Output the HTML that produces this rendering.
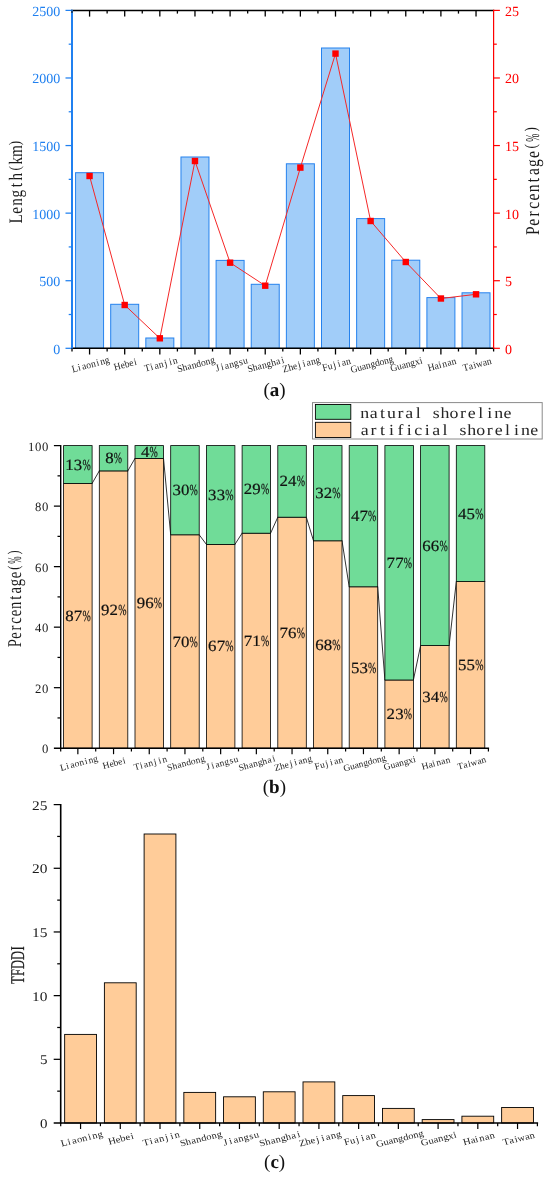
<!DOCTYPE html>
<html lang="en"><head><meta charset="utf-8"><title>Shoreline statistics</title>
<style>
html,body{margin:0;padding:0;background:#fff}
body{width:550px;height:1179px;overflow:hidden}
svg{display:block;font-family:'Liberation Serif','Noto Serif CJK SC',serif}
svg text{text-rendering:geometricPrecision}
</style></head><body>
<svg width="550" height="1179" viewBox="0 0 550 1179">
<rect width="550" height="1179" fill="#fff"/>
<g id="panel-a">
<rect x="75.57" y="172.70" width="28.00" height="175.60" fill="#a1cdf9" stroke="#2582ee" stroke-width="1"/>
<rect x="110.70" y="304.30" width="28.00" height="44.00" fill="#a1cdf9" stroke="#2582ee" stroke-width="1"/>
<rect x="145.83" y="338.00" width="28.00" height="10.30" fill="#a1cdf9" stroke="#2582ee" stroke-width="1"/>
<rect x="180.97" y="157.00" width="28.00" height="191.30" fill="#a1cdf9" stroke="#2582ee" stroke-width="1"/>
<rect x="216.10" y="260.40" width="28.00" height="87.90" fill="#a1cdf9" stroke="#2582ee" stroke-width="1"/>
<rect x="251.23" y="284.30" width="28.00" height="64.00" fill="#a1cdf9" stroke="#2582ee" stroke-width="1"/>
<rect x="286.37" y="163.80" width="28.00" height="184.50" fill="#a1cdf9" stroke="#2582ee" stroke-width="1"/>
<rect x="321.50" y="48.00" width="28.00" height="300.30" fill="#a1cdf9" stroke="#2582ee" stroke-width="1"/>
<rect x="356.63" y="218.60" width="28.00" height="129.70" fill="#a1cdf9" stroke="#2582ee" stroke-width="1"/>
<rect x="391.77" y="260.20" width="28.00" height="88.10" fill="#a1cdf9" stroke="#2582ee" stroke-width="1"/>
<rect x="426.90" y="297.60" width="28.00" height="50.70" fill="#a1cdf9" stroke="#2582ee" stroke-width="1"/>
<rect x="462.03" y="292.80" width="28.00" height="55.50" fill="#a1cdf9" stroke="#2582ee" stroke-width="1"/>
<line x1="71.0" y1="10.4" x2="494.20000000000005" y2="10.4" stroke="#000" stroke-width="1.5"/>
<line x1="65.5" y1="10.4" x2="72.0" y2="10.4" stroke="#2080f0" stroke-width="1.25"/>
<line x1="71.0" y1="348.3" x2="494.20000000000005" y2="348.3" stroke="#000" stroke-width="1.5"/>
<line x1="65.5" y1="348.3" x2="72.0" y2="348.3" stroke="#2080f0" stroke-width="1.25"/>
<line x1="72.0" y1="9.700000000000001" x2="72.0" y2="349.0" stroke="#2080f0" stroke-width="2"/>
<line x1="493.6" y1="9.700000000000001" x2="493.6" y2="349.0" stroke="#ff0000" stroke-width="1.2"/>
<line x1="89.57" y1="10.4" x2="89.57" y2="16.6" stroke="#000" stroke-width="1.3"/>
<line x1="89.57" y1="348.3" x2="89.57" y2="354.5" stroke="#000" stroke-width="1.3"/>
<line x1="124.70" y1="10.4" x2="124.70" y2="16.6" stroke="#000" stroke-width="1.3"/>
<line x1="124.70" y1="348.3" x2="124.70" y2="354.5" stroke="#000" stroke-width="1.3"/>
<line x1="159.83" y1="10.4" x2="159.83" y2="16.6" stroke="#000" stroke-width="1.3"/>
<line x1="159.83" y1="348.3" x2="159.83" y2="354.5" stroke="#000" stroke-width="1.3"/>
<line x1="194.97" y1="10.4" x2="194.97" y2="16.6" stroke="#000" stroke-width="1.3"/>
<line x1="194.97" y1="348.3" x2="194.97" y2="354.5" stroke="#000" stroke-width="1.3"/>
<line x1="230.10" y1="10.4" x2="230.10" y2="16.6" stroke="#000" stroke-width="1.3"/>
<line x1="230.10" y1="348.3" x2="230.10" y2="354.5" stroke="#000" stroke-width="1.3"/>
<line x1="265.23" y1="10.4" x2="265.23" y2="16.6" stroke="#000" stroke-width="1.3"/>
<line x1="265.23" y1="348.3" x2="265.23" y2="354.5" stroke="#000" stroke-width="1.3"/>
<line x1="300.37" y1="10.4" x2="300.37" y2="16.6" stroke="#000" stroke-width="1.3"/>
<line x1="300.37" y1="348.3" x2="300.37" y2="354.5" stroke="#000" stroke-width="1.3"/>
<line x1="335.50" y1="10.4" x2="335.50" y2="16.6" stroke="#000" stroke-width="1.3"/>
<line x1="335.50" y1="348.3" x2="335.50" y2="354.5" stroke="#000" stroke-width="1.3"/>
<line x1="370.63" y1="10.4" x2="370.63" y2="16.6" stroke="#000" stroke-width="1.3"/>
<line x1="370.63" y1="348.3" x2="370.63" y2="354.5" stroke="#000" stroke-width="1.3"/>
<line x1="405.77" y1="10.4" x2="405.77" y2="16.6" stroke="#000" stroke-width="1.3"/>
<line x1="405.77" y1="348.3" x2="405.77" y2="354.5" stroke="#000" stroke-width="1.3"/>
<line x1="440.90" y1="10.4" x2="440.90" y2="16.6" stroke="#000" stroke-width="1.3"/>
<line x1="440.90" y1="348.3" x2="440.90" y2="354.5" stroke="#000" stroke-width="1.3"/>
<line x1="476.03" y1="10.4" x2="476.03" y2="16.6" stroke="#000" stroke-width="1.3"/>
<line x1="476.03" y1="348.3" x2="476.03" y2="354.5" stroke="#000" stroke-width="1.3"/>
<line x1="72.00" y1="348.3" x2="72.00" y2="351.5" stroke="#000" stroke-width="1.3"/>
<line x1="72.00" y1="10.4" x2="72.00" y2="13.0" stroke="#123" stroke-width="1.2"/>
<line x1="107.13" y1="10.4" x2="107.13" y2="13.600000000000001" stroke="#000" stroke-width="1.3"/>
<line x1="107.13" y1="348.3" x2="107.13" y2="351.5" stroke="#000" stroke-width="1.3"/>
<line x1="142.27" y1="10.4" x2="142.27" y2="13.600000000000001" stroke="#000" stroke-width="1.3"/>
<line x1="142.27" y1="348.3" x2="142.27" y2="351.5" stroke="#000" stroke-width="1.3"/>
<line x1="177.40" y1="10.4" x2="177.40" y2="13.600000000000001" stroke="#000" stroke-width="1.3"/>
<line x1="177.40" y1="348.3" x2="177.40" y2="351.5" stroke="#000" stroke-width="1.3"/>
<line x1="212.53" y1="10.4" x2="212.53" y2="13.600000000000001" stroke="#000" stroke-width="1.3"/>
<line x1="212.53" y1="348.3" x2="212.53" y2="351.5" stroke="#000" stroke-width="1.3"/>
<line x1="247.67" y1="10.4" x2="247.67" y2="13.600000000000001" stroke="#000" stroke-width="1.3"/>
<line x1="247.67" y1="348.3" x2="247.67" y2="351.5" stroke="#000" stroke-width="1.3"/>
<line x1="282.80" y1="10.4" x2="282.80" y2="13.600000000000001" stroke="#000" stroke-width="1.3"/>
<line x1="282.80" y1="348.3" x2="282.80" y2="351.5" stroke="#000" stroke-width="1.3"/>
<line x1="317.93" y1="10.4" x2="317.93" y2="13.600000000000001" stroke="#000" stroke-width="1.3"/>
<line x1="317.93" y1="348.3" x2="317.93" y2="351.5" stroke="#000" stroke-width="1.3"/>
<line x1="353.07" y1="10.4" x2="353.07" y2="13.600000000000001" stroke="#000" stroke-width="1.3"/>
<line x1="353.07" y1="348.3" x2="353.07" y2="351.5" stroke="#000" stroke-width="1.3"/>
<line x1="388.20" y1="10.4" x2="388.20" y2="13.600000000000001" stroke="#000" stroke-width="1.3"/>
<line x1="388.20" y1="348.3" x2="388.20" y2="351.5" stroke="#000" stroke-width="1.3"/>
<line x1="423.33" y1="10.4" x2="423.33" y2="13.600000000000001" stroke="#000" stroke-width="1.3"/>
<line x1="423.33" y1="348.3" x2="423.33" y2="351.5" stroke="#000" stroke-width="1.3"/>
<line x1="458.47" y1="10.4" x2="458.47" y2="13.600000000000001" stroke="#000" stroke-width="1.3"/>
<line x1="458.47" y1="348.3" x2="458.47" y2="351.5" stroke="#000" stroke-width="1.3"/>
<line x1="493.60" y1="348.3" x2="493.60" y2="351.5" stroke="#000" stroke-width="1.3"/>
<line x1="493.6" y1="348.30" x2="499.90000000000003" y2="348.30" stroke="#ff0000" stroke-width="1.2"/>
<text x="60.3" y="353.70" font-size="14" text-anchor="end" fill="#2080f0">0</text>
<text x="505" y="353.75" font-size="14" text-anchor="start" fill="#ff0000">0</text>
<line x1="68.7" y1="314.51" x2="72.0" y2="314.51" stroke="#2080f0" stroke-width="1.25"/>
<line x1="493.6" y1="314.51" x2="496.8" y2="314.51" stroke="#ff0000" stroke-width="1.2"/>
<line x1="65.5" y1="280.72" x2="72.0" y2="280.72" stroke="#2080f0" stroke-width="1.25"/>
<line x1="493.6" y1="280.72" x2="499.90000000000003" y2="280.72" stroke="#ff0000" stroke-width="1.2"/>
<text x="60.3" y="286.12" font-size="14" text-anchor="end" fill="#2080f0">500</text>
<text x="505" y="286.17" font-size="14" text-anchor="start" fill="#ff0000">5</text>
<line x1="68.7" y1="246.93" x2="72.0" y2="246.93" stroke="#2080f0" stroke-width="1.25"/>
<line x1="493.6" y1="246.93" x2="496.8" y2="246.93" stroke="#ff0000" stroke-width="1.2"/>
<line x1="65.5" y1="213.14" x2="72.0" y2="213.14" stroke="#2080f0" stroke-width="1.25"/>
<line x1="493.6" y1="213.14" x2="499.90000000000003" y2="213.14" stroke="#ff0000" stroke-width="1.2"/>
<text x="60.3" y="218.54" font-size="14" text-anchor="end" fill="#2080f0">1000</text>
<text x="505" y="218.59" font-size="14" text-anchor="start" fill="#ff0000">10</text>
<line x1="68.7" y1="179.35" x2="72.0" y2="179.35" stroke="#2080f0" stroke-width="1.25"/>
<line x1="493.6" y1="179.35" x2="496.8" y2="179.35" stroke="#ff0000" stroke-width="1.2"/>
<line x1="65.5" y1="145.56" x2="72.0" y2="145.56" stroke="#2080f0" stroke-width="1.25"/>
<line x1="493.6" y1="145.56" x2="499.90000000000003" y2="145.56" stroke="#ff0000" stroke-width="1.2"/>
<text x="60.3" y="150.96" font-size="14" text-anchor="end" fill="#2080f0">1500</text>
<text x="505" y="151.01" font-size="14" text-anchor="start" fill="#ff0000">15</text>
<line x1="68.7" y1="111.77" x2="72.0" y2="111.77" stroke="#2080f0" stroke-width="1.25"/>
<line x1="493.6" y1="111.77" x2="496.8" y2="111.77" stroke="#ff0000" stroke-width="1.2"/>
<line x1="65.5" y1="77.98" x2="72.0" y2="77.98" stroke="#2080f0" stroke-width="1.25"/>
<line x1="493.6" y1="77.98" x2="499.90000000000003" y2="77.98" stroke="#ff0000" stroke-width="1.2"/>
<text x="60.3" y="83.38" font-size="14" text-anchor="end" fill="#2080f0">2000</text>
<text x="505" y="83.43" font-size="14" text-anchor="start" fill="#ff0000">20</text>
<line x1="68.7" y1="44.19" x2="72.0" y2="44.19" stroke="#2080f0" stroke-width="1.25"/>
<line x1="493.6" y1="44.19" x2="496.8" y2="44.19" stroke="#ff0000" stroke-width="1.2"/>
<line x1="493.6" y1="10.40" x2="499.90000000000003" y2="10.40" stroke="#ff0000" stroke-width="1.2"/>
<text x="60.3" y="15.80" font-size="14" text-anchor="end" fill="#2080f0">2500</text>
<text x="505" y="15.85" font-size="14" text-anchor="start" fill="#ff0000">25</text>
<polyline points="89.57,176.00 124.70,305.00 159.83,338.30 194.97,161.00 230.10,262.70 265.23,285.70 300.37,167.60 335.50,53.60 370.63,221.00 405.77,262.00 440.90,298.50 476.03,294.30" fill="none" stroke="#f52828" stroke-width="1"/>
<rect x="86.37" y="172.80" width="6.4" height="6.4" fill="#ff0000"/>
<rect x="121.50" y="301.80" width="6.4" height="6.4" fill="#ff0000"/>
<rect x="156.63" y="335.10" width="6.4" height="6.4" fill="#ff0000"/>
<rect x="191.77" y="157.80" width="6.4" height="6.4" fill="#ff0000"/>
<rect x="226.90" y="259.50" width="6.4" height="6.4" fill="#ff0000"/>
<rect x="262.03" y="282.50" width="6.4" height="6.4" fill="#ff0000"/>
<rect x="297.17" y="164.40" width="6.4" height="6.4" fill="#ff0000"/>
<rect x="332.30" y="50.40" width="6.4" height="6.4" fill="#ff0000"/>
<rect x="367.43" y="217.80" width="6.4" height="6.4" fill="#ff0000"/>
<rect x="402.57" y="258.80" width="6.4" height="6.4" fill="#ff0000"/>
<rect x="437.70" y="295.30" width="6.4" height="6.4" fill="#ff0000"/>
<rect x="472.83" y="291.10" width="6.4" height="6.4" fill="#ff0000"/>
<text x="-20.61 -14.02 -9.80 -5.03 0.03 6.19 10.13 15.18" y="3.00" transform="translate(90.87,364.50) rotate(-15) scale(0.95,1)" font-size="10" fill="#262626">Liaoning</text>
<text x="-13.04 -5.82 -1.39 3.60 8.72" y="3.00" transform="translate(126.00,364.50) rotate(-15) scale(0.95,1)" font-size="10" fill="#262626">Hebei</text>
<text x="-18.09 -11.49 -7.27 -2.50 3.66 8.72 12.66" y="3.00" transform="translate(161.13,364.50) rotate(-15) scale(0.95,1)" font-size="10" fill="#262626">Tianjin</text>
<text x="-20.58 -15.02 -9.80 -5.03 0.03 5.08 10.13 15.18" y="3.00" transform="translate(196.27,364.50) rotate(-15) scale(0.95,1)" font-size="10" fill="#262626">Shandong</text>
<text x="-17.10 -11.49 -7.27 -2.50 2.55 8.16 12.66" y="3.00" transform="translate(231.40,364.50) rotate(-15) scale(0.95,1)" font-size="10" fill="#262626">Jiangsu</text>
<text x="-20.58 -15.02 -9.80 -5.03 0.03 5.08 10.41 16.30" y="3.00" transform="translate(266.53,364.50) rotate(-15) scale(0.95,1)" font-size="10" fill="#262626">Shanghai</text>
<text x="-20.61 -14.52 -9.52 -3.92 1.14 5.36 10.13 15.18" y="3.00" transform="translate(301.67,364.50) rotate(-15) scale(0.95,1)" font-size="10" fill="#262626">Zhejiang</text>
<text x="-15.53 -9.96 -3.92 1.14 5.36 10.13" y="3.00" transform="translate(336.80,364.50) rotate(-15) scale(0.95,1)" font-size="10" fill="#262626">Fujian</text>
<text x="-23.14 -16.00 -11.05 -6.65 -1.69 3.27 8.23 13.18 18.14" y="3.00" transform="translate(371.93,364.50) rotate(-15) scale(0.95,1)" font-size="10" fill="#262626">Guangdong</text>
<text x="-18.09 -10.88 -5.88 -1.45 3.54 8.53 13.77" y="3.00" transform="translate(407.07,364.50) rotate(-15) scale(0.95,1)" font-size="10" fill="#262626">Guangxi</text>
<text x="-15.56 -8.35 -3.92 0.03 5.36 10.13" y="3.00" transform="translate(442.20,364.50) rotate(-15) scale(0.95,1)" font-size="10" fill="#262626">Hainan</text>
<text x="-15.56 -9.46 -4.18 -1.40 5.82 10.25" y="3.00" transform="translate(477.33,364.50) rotate(-15) scale(0.95,1)" font-size="10" fill="#262626">Taiwan</text>
<text x="-53.05 -40.97 -31.00 -20.50 -7.89 0.50 13.06 20.55 30.05 44.82" y="0.00 0.00 0.00 0.00 0.00 0.00 -2.19 0.00 0.00 -2.19" transform="translate(22.4,181) rotate(-90) scale(0.8,1)" font-size="19" fill="#1a1a1a">Length<tspan font-size="16.15">(</tspan>km<tspan font-size="16.15">)</tspan></text>
<text x="-68.87 -57.20 -45.55 -36.05 -25.48 -15.45 -2.71 6.25 16.27 27.40 39.54 47.75 60.69" y="0.00 0.00 0.00 0.00 0.00 0.00 0.00 0.00 0.00 0.00 -2.24 0.00 -2.24" transform="translate(538.5,180.0) rotate(-90) scale(0.8,1)" font-size="19.5" fill="#1a1a1a">Percentage<tspan font-size="16.57">(</tspan><tspan textLength="10.26" lengthAdjust="spacingAndGlyphs">%</tspan><tspan font-size="16.57">)</tspan></text>
</g>
<g id="panel-b">
<line x1="92.10" y1="483.40" x2="99.30" y2="470.90" stroke="#000" stroke-width="0.8"/>
<line x1="127.80" y1="470.90" x2="135.00" y2="458.40" stroke="#000" stroke-width="0.8"/>
<line x1="163.50" y1="458.40" x2="170.70" y2="534.80" stroke="#000" stroke-width="0.8"/>
<line x1="199.20" y1="534.80" x2="206.40" y2="544.40" stroke="#000" stroke-width="0.8"/>
<line x1="234.90" y1="544.40" x2="242.10" y2="533.20" stroke="#000" stroke-width="0.8"/>
<line x1="270.60" y1="533.20" x2="277.80" y2="517.20" stroke="#000" stroke-width="0.8"/>
<line x1="306.30" y1="517.20" x2="313.50" y2="540.80" stroke="#000" stroke-width="0.8"/>
<line x1="342.00" y1="540.80" x2="349.20" y2="586.80" stroke="#000" stroke-width="0.8"/>
<line x1="377.70" y1="586.80" x2="384.90" y2="680.00" stroke="#000" stroke-width="0.8"/>
<line x1="413.40" y1="680.00" x2="420.60" y2="645.60" stroke="#000" stroke-width="0.8"/>
<line x1="449.10" y1="645.60" x2="456.30" y2="581.60" stroke="#000" stroke-width="0.8"/>
<rect x="63.60" y="483.40" width="28.5" height="264.80" fill="#ffcc99" stroke="#000" stroke-width="0.8"/>
<rect x="63.60" y="445.60" width="28.5" height="37.80" fill="#70dc98" stroke="#000" stroke-width="0.8"/>
<rect x="99.30" y="470.90" width="28.5" height="277.30" fill="#ffcc99" stroke="#000" stroke-width="0.8"/>
<rect x="99.30" y="445.60" width="28.5" height="25.30" fill="#70dc98" stroke="#000" stroke-width="0.8"/>
<rect x="135.00" y="458.40" width="28.5" height="289.80" fill="#ffcc99" stroke="#000" stroke-width="0.8"/>
<rect x="135.00" y="445.60" width="28.5" height="12.80" fill="#70dc98" stroke="#000" stroke-width="0.8"/>
<rect x="170.70" y="534.80" width="28.5" height="213.40" fill="#ffcc99" stroke="#000" stroke-width="0.8"/>
<rect x="170.70" y="445.60" width="28.5" height="89.20" fill="#70dc98" stroke="#000" stroke-width="0.8"/>
<rect x="206.40" y="544.40" width="28.5" height="203.80" fill="#ffcc99" stroke="#000" stroke-width="0.8"/>
<rect x="206.40" y="445.60" width="28.5" height="98.80" fill="#70dc98" stroke="#000" stroke-width="0.8"/>
<rect x="242.10" y="533.20" width="28.5" height="215.00" fill="#ffcc99" stroke="#000" stroke-width="0.8"/>
<rect x="242.10" y="445.60" width="28.5" height="87.60" fill="#70dc98" stroke="#000" stroke-width="0.8"/>
<rect x="277.80" y="517.20" width="28.5" height="231.00" fill="#ffcc99" stroke="#000" stroke-width="0.8"/>
<rect x="277.80" y="445.60" width="28.5" height="71.60" fill="#70dc98" stroke="#000" stroke-width="0.8"/>
<rect x="313.50" y="540.80" width="28.5" height="207.40" fill="#ffcc99" stroke="#000" stroke-width="0.8"/>
<rect x="313.50" y="445.60" width="28.5" height="95.20" fill="#70dc98" stroke="#000" stroke-width="0.8"/>
<rect x="349.20" y="586.80" width="28.5" height="161.40" fill="#ffcc99" stroke="#000" stroke-width="0.8"/>
<rect x="349.20" y="445.60" width="28.5" height="141.20" fill="#70dc98" stroke="#000" stroke-width="0.8"/>
<rect x="384.90" y="680.00" width="28.5" height="68.20" fill="#ffcc99" stroke="#000" stroke-width="0.8"/>
<rect x="384.90" y="445.60" width="28.5" height="234.40" fill="#70dc98" stroke="#000" stroke-width="0.8"/>
<rect x="420.60" y="645.60" width="28.5" height="102.60" fill="#ffcc99" stroke="#000" stroke-width="0.8"/>
<rect x="420.60" y="445.60" width="28.5" height="200.00" fill="#70dc98" stroke="#000" stroke-width="0.8"/>
<rect x="456.30" y="581.60" width="28.5" height="166.60" fill="#ffcc99" stroke="#000" stroke-width="0.8"/>
<rect x="456.30" y="445.60" width="28.5" height="136.00" fill="#70dc98" stroke="#000" stroke-width="0.8"/>
<text x="-11.82 -3.90 4.08" y="0.00" transform="translate(78.05,469.50) scale(1.08,1)" font-size="15.6" fill="#111" stroke="#111" stroke-width="0.2">13<tspan textLength="7.68" lengthAdjust="spacingAndGlyphs">%</tspan></text>
<text x="-11.82 -3.90 4.08" y="0.00" transform="translate(78.05,620.80) scale(1.08,1)" font-size="15.6" fill="#111" stroke="#111" stroke-width="0.2">87<tspan textLength="7.68" lengthAdjust="spacingAndGlyphs">%</tspan></text>
<text x="-7.86 0.12" y="0.00" transform="translate(113.75,463.25) scale(1.08,1)" font-size="15.6" fill="#111" stroke="#111" stroke-width="0.2">8<tspan textLength="7.68" lengthAdjust="spacingAndGlyphs">%</tspan></text>
<text x="-11.82 -3.90 4.08" y="0.00" transform="translate(113.75,614.55) scale(1.08,1)" font-size="15.6" fill="#111" stroke="#111" stroke-width="0.2">92<tspan textLength="7.68" lengthAdjust="spacingAndGlyphs">%</tspan></text>
<text x="-7.86 0.12" y="0.00" transform="translate(149.45,457.00) scale(1.08,1)" font-size="15.6" fill="#111" stroke="#111" stroke-width="0.2">4<tspan textLength="7.68" lengthAdjust="spacingAndGlyphs">%</tspan></text>
<text x="-11.82 -3.90 4.08" y="0.00" transform="translate(149.45,608.30) scale(1.08,1)" font-size="15.6" fill="#111" stroke="#111" stroke-width="0.2">96<tspan textLength="7.68" lengthAdjust="spacingAndGlyphs">%</tspan></text>
<text x="-11.82 -3.90 4.08" y="0.00" transform="translate(185.15,495.20) scale(1.08,1)" font-size="15.6" fill="#111" stroke="#111" stroke-width="0.2">30<tspan textLength="7.68" lengthAdjust="spacingAndGlyphs">%</tspan></text>
<text x="-11.82 -3.90 4.08" y="0.00" transform="translate(185.15,646.50) scale(1.08,1)" font-size="15.6" fill="#111" stroke="#111" stroke-width="0.2">70<tspan textLength="7.68" lengthAdjust="spacingAndGlyphs">%</tspan></text>
<text x="-11.82 -3.90 4.08" y="0.00" transform="translate(220.85,500.00) scale(1.08,1)" font-size="15.6" fill="#111" stroke="#111" stroke-width="0.2">33<tspan textLength="7.68" lengthAdjust="spacingAndGlyphs">%</tspan></text>
<text x="-11.82 -3.90 4.08" y="0.00" transform="translate(220.85,651.30) scale(1.08,1)" font-size="15.6" fill="#111" stroke="#111" stroke-width="0.2">67<tspan textLength="7.68" lengthAdjust="spacingAndGlyphs">%</tspan></text>
<text x="-11.82 -3.90 4.08" y="0.00" transform="translate(256.55,494.40) scale(1.08,1)" font-size="15.6" fill="#111" stroke="#111" stroke-width="0.2">29<tspan textLength="7.68" lengthAdjust="spacingAndGlyphs">%</tspan></text>
<text x="-11.82 -3.90 4.08" y="0.00" transform="translate(256.55,645.70) scale(1.08,1)" font-size="15.6" fill="#111" stroke="#111" stroke-width="0.2">71<tspan textLength="7.68" lengthAdjust="spacingAndGlyphs">%</tspan></text>
<text x="-11.82 -3.90 4.08" y="0.00" transform="translate(292.25,486.40) scale(1.08,1)" font-size="15.6" fill="#111" stroke="#111" stroke-width="0.2">24<tspan textLength="7.68" lengthAdjust="spacingAndGlyphs">%</tspan></text>
<text x="-11.82 -3.90 4.08" y="0.00" transform="translate(292.25,637.70) scale(1.08,1)" font-size="15.6" fill="#111" stroke="#111" stroke-width="0.2">76<tspan textLength="7.68" lengthAdjust="spacingAndGlyphs">%</tspan></text>
<text x="-11.82 -3.90 4.08" y="0.00" transform="translate(327.95,498.20) scale(1.08,1)" font-size="15.6" fill="#111" stroke="#111" stroke-width="0.2">32<tspan textLength="7.68" lengthAdjust="spacingAndGlyphs">%</tspan></text>
<text x="-11.82 -3.90 4.08" y="0.00" transform="translate(327.95,649.50) scale(1.08,1)" font-size="15.6" fill="#111" stroke="#111" stroke-width="0.2">68<tspan textLength="7.68" lengthAdjust="spacingAndGlyphs">%</tspan></text>
<text x="-11.82 -3.90 4.08" y="0.00" transform="translate(363.65,521.20) scale(1.08,1)" font-size="15.6" fill="#111" stroke="#111" stroke-width="0.2">47<tspan textLength="7.68" lengthAdjust="spacingAndGlyphs">%</tspan></text>
<text x="-11.82 -3.90 4.08" y="0.00" transform="translate(363.65,672.50) scale(1.08,1)" font-size="15.6" fill="#111" stroke="#111" stroke-width="0.2">53<tspan textLength="7.68" lengthAdjust="spacingAndGlyphs">%</tspan></text>
<text x="-11.82 -3.90 4.08" y="0.00" transform="translate(399.35,567.80) scale(1.08,1)" font-size="15.6" fill="#111" stroke="#111" stroke-width="0.2">77<tspan textLength="7.68" lengthAdjust="spacingAndGlyphs">%</tspan></text>
<text x="-11.82 -3.90 4.08" y="0.00" transform="translate(399.35,719.10) scale(1.08,1)" font-size="15.6" fill="#111" stroke="#111" stroke-width="0.2">23<tspan textLength="7.68" lengthAdjust="spacingAndGlyphs">%</tspan></text>
<text x="-11.82 -3.90 4.08" y="0.00" transform="translate(435.05,550.60) scale(1.08,1)" font-size="15.6" fill="#111" stroke="#111" stroke-width="0.2">66<tspan textLength="7.68" lengthAdjust="spacingAndGlyphs">%</tspan></text>
<text x="-11.82 -3.90 4.08" y="0.00" transform="translate(435.05,701.90) scale(1.08,1)" font-size="15.6" fill="#111" stroke="#111" stroke-width="0.2">34<tspan textLength="7.68" lengthAdjust="spacingAndGlyphs">%</tspan></text>
<text x="-11.82 -3.90 4.08" y="0.00" transform="translate(470.75,518.60) scale(1.08,1)" font-size="15.6" fill="#111" stroke="#111" stroke-width="0.2">45<tspan textLength="7.68" lengthAdjust="spacingAndGlyphs">%</tspan></text>
<text x="-11.82 -3.90 4.08" y="0.00" transform="translate(470.75,669.90) scale(1.08,1)" font-size="15.6" fill="#111" stroke="#111" stroke-width="0.2">55<tspan textLength="7.68" lengthAdjust="spacingAndGlyphs">%</tspan></text>
<line x1="60.7" y1="444.90000000000003" x2="60.7" y2="748.9000000000001" stroke="#000" stroke-width="1.4"/>
<line x1="53.900000000000006" y1="748.2" x2="489.09999999999997" y2="748.2" stroke="#000" stroke-width="1.4"/>
<text x="-6.67" y="0.00" transform="translate(48.70,753.20)" font-size="12.7" fill="#1a1a1a">0</text>
<line x1="57.5" y1="717.94" x2="60.7" y2="717.94" stroke="#000" stroke-width="1.25"/>
<line x1="53.900000000000006" y1="687.68" x2="60.7" y2="687.68" stroke="#000" stroke-width="1.25"/>
<text x="-13.68 -6.67" y="0.00" transform="translate(48.70,692.68)" font-size="12.7" fill="#1a1a1a">20</text>
<line x1="57.5" y1="657.42" x2="60.7" y2="657.42" stroke="#000" stroke-width="1.25"/>
<line x1="53.900000000000006" y1="627.16" x2="60.7" y2="627.16" stroke="#000" stroke-width="1.25"/>
<text x="-13.68 -6.67" y="0.00" transform="translate(48.70,632.16)" font-size="12.7" fill="#1a1a1a">40</text>
<line x1="57.5" y1="596.90" x2="60.7" y2="596.90" stroke="#000" stroke-width="1.25"/>
<line x1="53.900000000000006" y1="566.64" x2="60.7" y2="566.64" stroke="#000" stroke-width="1.25"/>
<text x="-13.68 -6.67" y="0.00" transform="translate(48.70,571.64)" font-size="12.7" fill="#1a1a1a">60</text>
<line x1="57.5" y1="536.38" x2="60.7" y2="536.38" stroke="#000" stroke-width="1.25"/>
<line x1="53.900000000000006" y1="506.12" x2="60.7" y2="506.12" stroke="#000" stroke-width="1.25"/>
<text x="-13.68 -6.67" y="0.00" transform="translate(48.70,511.12)" font-size="12.7" fill="#1a1a1a">80</text>
<line x1="57.5" y1="475.86" x2="60.7" y2="475.86" stroke="#000" stroke-width="1.25"/>
<line x1="53.900000000000006" y1="445.60" x2="60.7" y2="445.60" stroke="#000" stroke-width="1.25"/>
<text x="-20.68 -13.68 -6.67" y="0.00" transform="translate(48.70,450.60)" font-size="12.7" fill="#1a1a1a">100</text>
<line x1="77.85" y1="748.2" x2="77.85" y2="754.2" stroke="#000" stroke-width="1.2"/>
<line x1="113.55" y1="748.2" x2="113.55" y2="754.2" stroke="#000" stroke-width="1.2"/>
<line x1="149.25" y1="748.2" x2="149.25" y2="754.2" stroke="#000" stroke-width="1.2"/>
<line x1="184.95" y1="748.2" x2="184.95" y2="754.2" stroke="#000" stroke-width="1.2"/>
<line x1="220.65" y1="748.2" x2="220.65" y2="754.2" stroke="#000" stroke-width="1.2"/>
<line x1="256.35" y1="748.2" x2="256.35" y2="754.2" stroke="#000" stroke-width="1.2"/>
<line x1="292.05" y1="748.2" x2="292.05" y2="754.2" stroke="#000" stroke-width="1.2"/>
<line x1="327.75" y1="748.2" x2="327.75" y2="754.2" stroke="#000" stroke-width="1.2"/>
<line x1="363.45" y1="748.2" x2="363.45" y2="754.2" stroke="#000" stroke-width="1.2"/>
<line x1="399.15" y1="748.2" x2="399.15" y2="754.2" stroke="#000" stroke-width="1.2"/>
<line x1="434.85" y1="748.2" x2="434.85" y2="754.2" stroke="#000" stroke-width="1.2"/>
<line x1="470.55" y1="748.2" x2="470.55" y2="754.2" stroke="#000" stroke-width="1.2"/>
<line x1="60.70" y1="748.2" x2="60.70" y2="751.4000000000001" stroke="#000" stroke-width="1.2"/>
<line x1="95.70" y1="748.2" x2="95.70" y2="751.4000000000001" stroke="#000" stroke-width="1.2"/>
<line x1="131.40" y1="748.2" x2="131.40" y2="751.4000000000001" stroke="#000" stroke-width="1.2"/>
<line x1="167.10" y1="748.2" x2="167.10" y2="751.4000000000001" stroke="#000" stroke-width="1.2"/>
<line x1="202.80" y1="748.2" x2="202.80" y2="751.4000000000001" stroke="#000" stroke-width="1.2"/>
<line x1="238.50" y1="748.2" x2="238.50" y2="751.4000000000001" stroke="#000" stroke-width="1.2"/>
<line x1="274.20" y1="748.2" x2="274.20" y2="751.4000000000001" stroke="#000" stroke-width="1.2"/>
<line x1="309.90" y1="748.2" x2="309.90" y2="751.4000000000001" stroke="#000" stroke-width="1.2"/>
<line x1="345.60" y1="748.2" x2="345.60" y2="751.4000000000001" stroke="#000" stroke-width="1.2"/>
<line x1="381.30" y1="748.2" x2="381.30" y2="751.4000000000001" stroke="#000" stroke-width="1.2"/>
<line x1="417.00" y1="748.2" x2="417.00" y2="751.4000000000001" stroke="#000" stroke-width="1.2"/>
<line x1="452.70" y1="748.2" x2="452.70" y2="751.4000000000001" stroke="#000" stroke-width="1.2"/>
<line x1="488.40" y1="748.2" x2="488.40" y2="751.4000000000001" stroke="#000" stroke-width="1.2"/>
<text x="-18.97 -12.90 -9.01 -4.62 0.02 5.69 9.32 13.97" y="2.76" transform="translate(79.15,763.20) rotate(-15) scale(1.033,1)" font-size="9.2" fill="#262626">Liaoning</text>
<text x="-11.99 -5.36 -1.28 3.31 8.02" y="2.76" transform="translate(114.85,763.20) rotate(-15) scale(1.033,1)" font-size="9.2" fill="#262626">Hebei</text>
<text x="-16.64 -10.57 -6.69 -2.30 3.37 8.02 11.65" y="2.76" transform="translate(150.55,763.20) rotate(-15) scale(1.033,1)" font-size="9.2" fill="#262626">Tianjin</text>
<text x="-18.93 -13.82 -9.01 -4.62 0.02 4.67 9.32 13.97" y="2.76" transform="translate(186.25,763.20) rotate(-15) scale(1.033,1)" font-size="9.2" fill="#262626">Shandong</text>
<text x="-15.74 -10.57 -6.69 -2.30 2.35 7.51 11.65" y="2.76" transform="translate(221.95,763.20) rotate(-15) scale(1.033,1)" font-size="9.2" fill="#262626">Jiangsu</text>
<text x="-18.93 -13.82 -9.01 -4.62 0.02 4.67 9.58 14.99" y="2.76" transform="translate(257.65,763.20) rotate(-15) scale(1.033,1)" font-size="9.2" fill="#262626">Shanghai</text>
<text x="-18.97 -13.35 -8.76 -3.60 1.05 4.93 9.32 13.97" y="2.76" transform="translate(293.35,763.20) rotate(-15) scale(1.033,1)" font-size="9.2" fill="#262626">Zhejiang</text>
<text x="-14.28 -9.17 -3.60 1.05 4.93 9.32" y="2.76" transform="translate(329.05,763.20) rotate(-15) scale(1.033,1)" font-size="9.2" fill="#262626">Fujian</text>
<text x="-21.29 -14.72 -10.16 -6.12 -1.56 3.01 7.57 12.13 16.69" y="2.76" transform="translate(364.75,763.20) rotate(-15) scale(1.033,1)" font-size="9.2" fill="#262626">Guangdong</text>
<text x="-16.64 -10.01 -5.41 -1.34 3.25 7.84 12.67" y="2.76" transform="translate(400.45,763.20) rotate(-15) scale(1.033,1)" font-size="9.2" fill="#262626">Guangxi</text>
<text x="-14.32 -7.68 -3.60 0.02 4.93 9.32" y="2.76" transform="translate(436.15,763.20) rotate(-15) scale(1.033,1)" font-size="9.2" fill="#262626">Hainan</text>
<text x="-14.32 -8.70 -3.84 -1.29 5.35 9.43" y="2.76" transform="translate(471.85,763.20) rotate(-15) scale(1.033,1)" font-size="9.2" fill="#262626">Taiwan</text>
<text x="-65.90 -54.73 -43.57 -34.57 -24.49 -14.95 -2.71 5.75 15.29 25.91 37.56 45.51 57.72" y="0.00 0.00 0.00 0.00 0.00 0.00 0.00 0.00 0.00 0.00 -2.24 0.00 -2.24" transform="translate(21.0,597.8) rotate(-90) scale(0.75,1)" font-size="19.5" fill="#1a1a1a">Percentage<tspan font-size="16.57">(</tspan><tspan textLength="9.78" lengthAdjust="spacingAndGlyphs">%</tspan><tspan font-size="16.57">)</tspan></text>
<rect x="312.5" y="402.6" width="229.7" height="36.4" fill="#fff" stroke="#8a8a8a" stroke-width="1"/>
<rect x="315.4" y="404.5" width="35.4" height="14.8" fill="#70dc98" stroke="#000" stroke-width="0.9"/>
<rect x="315.4" y="422.3" width="35.4" height="15.2" fill="#ffcc99" stroke="#000" stroke-width="0.9"/>
<text x="0.01 8.21 17.26 23.30 32.36 39.27 48.32 56.30 62.99 69.89 77.66 86.72 93.63 102.68 110.44 116.49 124.69" y="0.00" transform="translate(360.20,417.70) scale(1.15,1)" font-size="15.5" fill="#262626">natural shoreline</text>
<text x="0.44 9.07 17.26 25.03 32.36 40.56 47.03 56.09 62.56 71.62 79.60 86.28 93.19 100.96 110.01 116.92 125.97 133.74 139.78 147.98" y="0.00" transform="translate(360.20,435.00) scale(1.15,1)" font-size="15.5" fill="#262626">artificial shoreline</text>
</g>
<g id="panel-c">
<rect x="64.66" y="1034.40" width="31.8" height="88.60" fill="#ffcc99" stroke="#000" stroke-width="0.9"/>
<rect x="104.39" y="982.80" width="31.8" height="140.20" fill="#ffcc99" stroke="#000" stroke-width="0.9"/>
<rect x="144.11" y="834.00" width="31.8" height="289.00" fill="#ffcc99" stroke="#000" stroke-width="0.9"/>
<rect x="183.84" y="1092.40" width="31.8" height="30.60" fill="#ffcc99" stroke="#000" stroke-width="0.9"/>
<rect x="223.56" y="1096.80" width="31.8" height="26.20" fill="#ffcc99" stroke="#000" stroke-width="0.9"/>
<rect x="263.29" y="1091.80" width="31.8" height="31.20" fill="#ffcc99" stroke="#000" stroke-width="0.9"/>
<rect x="303.01" y="1081.90" width="31.8" height="41.10" fill="#ffcc99" stroke="#000" stroke-width="0.9"/>
<rect x="342.74" y="1095.60" width="31.8" height="27.40" fill="#ffcc99" stroke="#000" stroke-width="0.9"/>
<rect x="382.46" y="1108.40" width="31.8" height="14.60" fill="#ffcc99" stroke="#000" stroke-width="0.9"/>
<rect x="422.19" y="1119.60" width="31.8" height="3.40" fill="#ffcc99" stroke="#000" stroke-width="0.9"/>
<rect x="461.91" y="1116.20" width="31.8" height="6.80" fill="#ffcc99" stroke="#000" stroke-width="0.9"/>
<rect x="501.64" y="1107.50" width="31.8" height="15.50" fill="#ffcc99" stroke="#000" stroke-width="0.9"/>
<line x1="60.7" y1="803.9" x2="60.7" y2="1123.7" stroke="#000" stroke-width="1.6"/>
<line x1="53.7" y1="1123.0" x2="538.1" y2="1123.0" stroke="#000" stroke-width="1.4"/>
<text x="47.5" y="1128.15" font-size="13.3" text-anchor="end" textLength="7.5" lengthAdjust="spacingAndGlyphs" fill="#1a1a1a">0</text>
<line x1="57.2" y1="1091.16" x2="60.7" y2="1091.16" stroke="#000" stroke-width="1.25"/>
<line x1="53.7" y1="1059.32" x2="60.7" y2="1059.32" stroke="#000" stroke-width="1.25"/>
<text x="47.5" y="1064.47" font-size="13.3" text-anchor="end" textLength="7.5" lengthAdjust="spacingAndGlyphs" fill="#1a1a1a">5</text>
<line x1="57.2" y1="1027.48" x2="60.7" y2="1027.48" stroke="#000" stroke-width="1.25"/>
<line x1="53.7" y1="995.64" x2="60.7" y2="995.64" stroke="#000" stroke-width="1.25"/>
<text x="47.5" y="1000.79" font-size="13.3" text-anchor="end" textLength="15.4" lengthAdjust="spacingAndGlyphs" fill="#1a1a1a">10</text>
<line x1="57.2" y1="963.80" x2="60.7" y2="963.80" stroke="#000" stroke-width="1.25"/>
<line x1="53.7" y1="931.96" x2="60.7" y2="931.96" stroke="#000" stroke-width="1.25"/>
<text x="47.5" y="937.11" font-size="13.3" text-anchor="end" textLength="15.4" lengthAdjust="spacingAndGlyphs" fill="#1a1a1a">15</text>
<line x1="57.2" y1="900.12" x2="60.7" y2="900.12" stroke="#000" stroke-width="1.25"/>
<line x1="53.7" y1="868.28" x2="60.7" y2="868.28" stroke="#000" stroke-width="1.25"/>
<text x="47.5" y="873.43" font-size="13.3" text-anchor="end" textLength="15.4" lengthAdjust="spacingAndGlyphs" fill="#1a1a1a">20</text>
<line x1="57.2" y1="836.44" x2="60.7" y2="836.44" stroke="#000" stroke-width="1.25"/>
<line x1="53.7" y1="804.60" x2="60.7" y2="804.60" stroke="#000" stroke-width="1.25"/>
<text x="47.5" y="809.75" font-size="13.3" text-anchor="end" textLength="15.4" lengthAdjust="spacingAndGlyphs" fill="#1a1a1a">25</text>
<line x1="80.56" y1="1123.0" x2="80.56" y2="1129.0" stroke="#000" stroke-width="1.2"/>
<line x1="120.29" y1="1123.0" x2="120.29" y2="1129.0" stroke="#000" stroke-width="1.2"/>
<line x1="160.01" y1="1123.0" x2="160.01" y2="1129.0" stroke="#000" stroke-width="1.2"/>
<line x1="199.74" y1="1123.0" x2="199.74" y2="1129.0" stroke="#000" stroke-width="1.2"/>
<line x1="239.46" y1="1123.0" x2="239.46" y2="1129.0" stroke="#000" stroke-width="1.2"/>
<line x1="279.19" y1="1123.0" x2="279.19" y2="1129.0" stroke="#000" stroke-width="1.2"/>
<line x1="318.91" y1="1123.0" x2="318.91" y2="1129.0" stroke="#000" stroke-width="1.2"/>
<line x1="358.64" y1="1123.0" x2="358.64" y2="1129.0" stroke="#000" stroke-width="1.2"/>
<line x1="398.36" y1="1123.0" x2="398.36" y2="1129.0" stroke="#000" stroke-width="1.2"/>
<line x1="438.09" y1="1123.0" x2="438.09" y2="1129.0" stroke="#000" stroke-width="1.2"/>
<line x1="477.81" y1="1123.0" x2="477.81" y2="1129.0" stroke="#000" stroke-width="1.2"/>
<line x1="517.54" y1="1123.0" x2="517.54" y2="1129.0" stroke="#000" stroke-width="1.2"/>
<line x1="60.70" y1="1123.0" x2="60.70" y2="1126.2" stroke="#000" stroke-width="1.2"/>
<line x1="100.43" y1="1123.0" x2="100.43" y2="1126.2" stroke="#000" stroke-width="1.2"/>
<line x1="140.15" y1="1123.0" x2="140.15" y2="1126.2" stroke="#000" stroke-width="1.2"/>
<line x1="179.88" y1="1123.0" x2="179.88" y2="1126.2" stroke="#000" stroke-width="1.2"/>
<line x1="219.60" y1="1123.0" x2="219.60" y2="1126.2" stroke="#000" stroke-width="1.2"/>
<line x1="259.32" y1="1123.0" x2="259.32" y2="1126.2" stroke="#000" stroke-width="1.2"/>
<line x1="299.05" y1="1123.0" x2="299.05" y2="1126.2" stroke="#000" stroke-width="1.2"/>
<line x1="338.77" y1="1123.0" x2="338.77" y2="1126.2" stroke="#000" stroke-width="1.2"/>
<line x1="378.50" y1="1123.0" x2="378.50" y2="1126.2" stroke="#000" stroke-width="1.2"/>
<line x1="418.23" y1="1123.0" x2="418.23" y2="1126.2" stroke="#000" stroke-width="1.2"/>
<line x1="457.95" y1="1123.0" x2="457.95" y2="1126.2" stroke="#000" stroke-width="1.2"/>
<line x1="497.68" y1="1123.0" x2="497.68" y2="1126.2" stroke="#000" stroke-width="1.2"/>
<line x1="537.40" y1="1123.0" x2="537.40" y2="1126.2" stroke="#000" stroke-width="1.2"/>
<text x="-18.97 -12.90 -9.01 -4.62 0.02 5.69 9.32 13.97" y="2.76" transform="translate(81.96,1138.80) scale(1.115,1) rotate(-15) scale(1.033,1)" font-size="9.2" fill="#262626">Liaoning</text>
<text x="-11.99 -5.36 -1.28 3.31 8.02" y="2.76" transform="translate(121.69,1138.80) scale(1.115,1) rotate(-15) scale(1.033,1)" font-size="9.2" fill="#262626">Hebei</text>
<text x="-16.64 -10.57 -6.69 -2.30 3.37 8.02 11.65" y="2.76" transform="translate(161.41,1138.80) scale(1.115,1) rotate(-15) scale(1.033,1)" font-size="9.2" fill="#262626">Tianjin</text>
<text x="-18.93 -13.82 -9.01 -4.62 0.02 4.67 9.32 13.97" y="2.76" transform="translate(201.14,1138.80) scale(1.115,1) rotate(-15) scale(1.033,1)" font-size="9.2" fill="#262626">Shandong</text>
<text x="-15.74 -10.57 -6.69 -2.30 2.35 7.51 11.65" y="2.76" transform="translate(240.86,1138.80) scale(1.115,1) rotate(-15) scale(1.033,1)" font-size="9.2" fill="#262626">Jiangsu</text>
<text x="-18.93 -13.82 -9.01 -4.62 0.02 4.67 9.58 14.99" y="2.76" transform="translate(280.59,1138.80) scale(1.115,1) rotate(-15) scale(1.033,1)" font-size="9.2" fill="#262626">Shanghai</text>
<text x="-18.97 -13.35 -8.76 -3.60 1.05 4.93 9.32 13.97" y="2.76" transform="translate(320.31,1138.80) scale(1.115,1) rotate(-15) scale(1.033,1)" font-size="9.2" fill="#262626">Zhejiang</text>
<text x="-14.28 -9.17 -3.60 1.05 4.93 9.32" y="2.76" transform="translate(360.04,1138.80) scale(1.115,1) rotate(-15) scale(1.033,1)" font-size="9.2" fill="#262626">Fujian</text>
<text x="-21.29 -14.72 -10.16 -6.12 -1.56 3.01 7.57 12.13 16.69" y="2.76" transform="translate(399.76,1138.80) scale(1.115,1) rotate(-15) scale(1.033,1)" font-size="9.2" fill="#262626">Guangdong</text>
<text x="-16.64 -10.01 -5.41 -1.34 3.25 7.84 12.67" y="2.76" transform="translate(439.49,1138.80) scale(1.115,1) rotate(-15) scale(1.033,1)" font-size="9.2" fill="#262626">Guangxi</text>
<text x="-14.32 -7.68 -3.60 0.02 4.93 9.32" y="2.76" transform="translate(479.21,1138.80) scale(1.115,1) rotate(-15) scale(1.033,1)" font-size="9.2" fill="#262626">Hainan</text>
<text x="-14.32 -8.70 -3.84 -1.29 5.35 9.43" y="2.76" transform="translate(518.94,1138.80) scale(1.115,1) rotate(-15) scale(1.033,1)" font-size="9.2" fill="#262626">Taiwan</text>
<text x="-30.80 -18.42 -7.58 6.50 21.60" y="0.00" transform="translate(24.1,964.2) rotate(-90) scale(0.64,1)" font-size="19.5" fill="#1a1a1a" stroke="#1a1a1a" stroke-width="0.3">TFDDI</text>
</g>
<text x="274.5" y="395.7" font-size="19" text-anchor="middle" fill="#111">(<tspan font-weight="bold">a</tspan>)</text>
<text x="274.4" y="792.9" font-size="19" text-anchor="middle" fill="#111">(<tspan font-weight="bold">b</tspan>)</text>
<text x="274.6" y="1167.6" font-size="19" text-anchor="middle" fill="#111">(<tspan font-weight="bold">c</tspan>)</text>
</svg>
</body></html>
